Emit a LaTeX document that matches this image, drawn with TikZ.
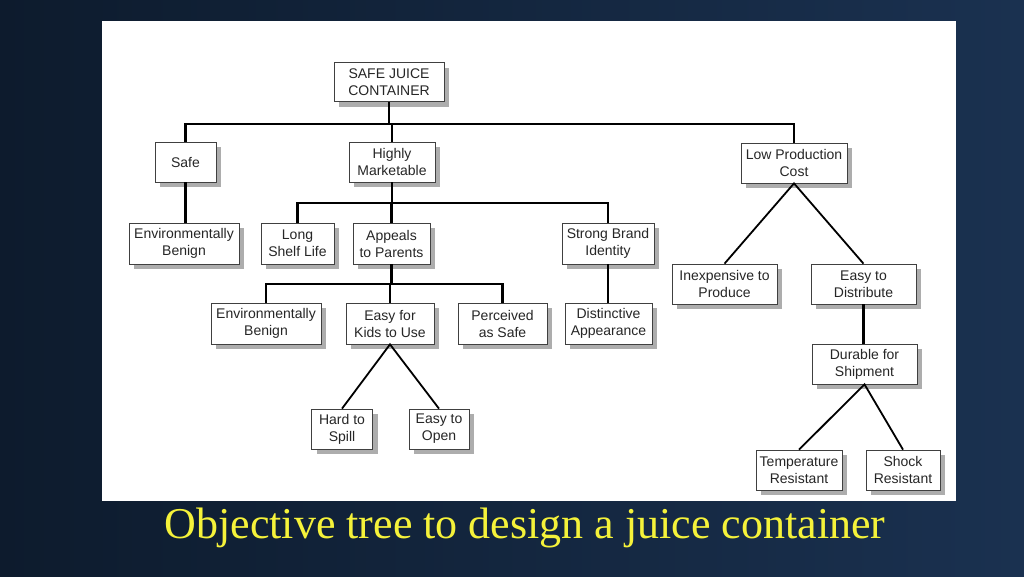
\documentclass[tikz,border=0pt]{standalone}
\usepackage{fontspec}
\setmainfont{Liberation Sans}
\newfontfamily\capfont{Liberation Serif}
\usetikzlibrary{shadows}
\definecolor{bgA}{HTML}{0D1B2D}
\definecolor{bgB}{HTML}{1A3150}
\definecolor{capyellow}{HTML}{F5F23A}
\tikzset{
  obox/.style={draw=black!75, line width=0.7pt, fill=white, align=center,
    font=\fontsize{14}{17}\selectfont, text=black!85, inner sep=1pt,
    drop shadow={shadow xshift=5pt, shadow yshift=-5pt, fill=black!32, opacity=1}},
  link/.style={line width=2.2pt, black},
  dlink/.style={line width=1.8pt, black}
}
\newcommand{\bx}[6]{\node[obox, minimum width=#4pt, minimum height=#5pt] (#1) at (#2,#3) {#6};}
\begin{document}
\begin{tikzpicture}[x=1pt,y=-1pt]
\useasboundingbox (0,0) rectangle (1024,576);
\shade[left color=bgA, right color=bgB] (0,0) rectangle (1024,576);
\fill[white] (102,21) rectangle (956,501);
% nodes
\bx{root}{389}{82}{110}{39}{SAFE JUICE\\CONTAINER}
\bx{safe}{185.5}{162}{61}{40}{Safe}
\bx{hm}{392}{162}{86}{40}{Highly\\Marketable}
\bx{lpc}{794}{163}{106}{40}{Low Production\\Cost}
\bx{eba}{184}{243.5}{110}{41}{Environmentally\\Benign}
\bx{lsl}{297.5}{243.5}{73}{41}{Long\\Shelf Life}
\bx{ap}{391.5}{243.5}{77}{41}{Appeals\\to Parents}
\bx{sbi}{608}{243.5}{92}{41}{Strong Brand\\Identity}
\bx{ebb}{266}{323.5}{110}{41}{Environmentally\\Benign}
\bx{ekid}{390}{323.5}{88}{41}{Easy for\\Kids to Use}
\bx{pas}{502.5}{323.5}{89}{41}{Perceived\\as Safe}
\bx{da}{608.5}{323.5}{87}{41}{Distinctive\\Appearance}
\bx{hs}{342}{429}{61}{40}{Hard to\\Spill}
\bx{eo}{439}{429}{60}{40}{Easy to\\Open}
\bx{inx}{724.5}{284}{105}{40}{Inexpensive to\\Produce}
\bx{etd}{863.5}{284}{105}{40}{Easy to\\Distribute}
\bx{dfs}{864.5}{364}{105}{40}{Durable for\\Shipment}
\bx{tr}{799}{470}{86}{40}{Temperature\\Resistant}
\bx{sr}{903}{470}{74}{40}{Shock\\Resistant}
% connectors
\coordinate (b1) at (0,124);
\draw[link] (root.south) -- (root.south |- b1);
\draw[link] (safe.north) -- (safe.north |- b1) -- (lpc.north |- b1) -- (lpc.north);
\draw[link] (hm.north) -- (hm.north |- b1);
\draw[link] (safe.south) -- (eba.north -| safe.south);
\coordinate (b2) at (0,203);
\draw[link] (hm.south) -- (hm.south |- b2);
\draw[link] (lsl.north) -- (lsl.north |- b2) -- (sbi.north |- b2) -- (sbi.north);
\draw[link] (ap.north) -- (ap.north |- b2);
\coordinate (b3) at (0,284);
\draw[link] (ap.south) -- (ap.south |- b3);
\draw[link] (ebb.north) -- (ebb.north |- b3) -- (pas.north |- b3) -- (pas.north);
\draw[link] (ekid.north) -- (ekid.north |- b3);
\draw[link] (sbi.south) -- (da.north -| sbi.south);
\draw[dlink] (hs.north) -- (ekid.south) -- (eo.north);
\draw[dlink] (inx.north) -- (lpc.south) -- (etd.north);
\draw[link] (etd.south) -- (dfs.north -| etd.south);
\draw[dlink] (tr.north) -- (dfs.south) -- (sr.north);
% caption
\node[text=capyellow, font=\capfont\fontsize{44}{48}\selectfont, inner sep=0pt, anchor=base] (cap) at (525,538) {Objective tree to design a juice container};
\end{tikzpicture}
\end{document}
